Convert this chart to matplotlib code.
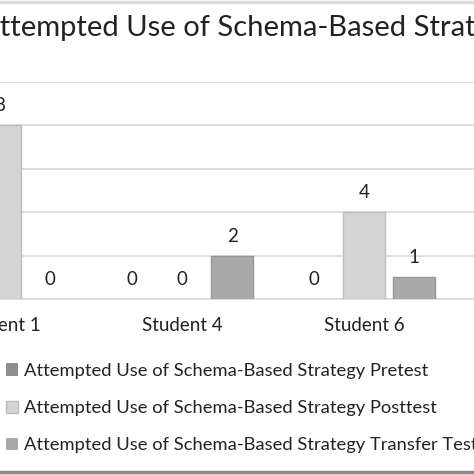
import matplotlib
matplotlib.use('Agg')
from matplotlib import pyplot as plt
from matplotlib.lines import Line2D
import numpy as np

plt.rcParams['font.family'] = ['Lato', 'DejaVu Sans']

# data (Student 1 pretest is cropped out of the picture)
students = ['Student 1', 'Student 4', 'Student 6']
pretest = [0, 0, 0]
posttest = [8, 0, 4]
transfer = [0, 2, 1]
series_names = ['Attempted Use of Schema-Based Strategy Pretest',
                'Attempted Use of Schema-Based Strategy Posttest',
                'Attempted Use of Schema-Based Strategy Transfer Test']
title = 'Attempted Use of Schema-Based Strategy'

colors = ['#8e8e8e', '#d4d4d4', '#a9a9a9']
edges = ['#7b7b7b', '#bdbdbd', '#979797']

fig = plt.figure(figsize=(4.74, 4.74), dpi=100)
ax = fig.add_axes([0, 0.369, 1, 0.458])

x = np.arange(len(students))
w = 0.23
off = 0.275
handles = []
for k, vals in enumerate([pretest, posttest, transfer]):
    lw = [1 if v > 0 else 0 for v in vals]
    bars = ax.bar(x + (k - 1) * off, vals, w, color=colors[k],
                  edgecolor=edges[k], linewidth=lw, zorder=3)
    ax.bar_label(bars, padding=8, fontsize=13.5, color='#222222')
    handles.append(bars)

ax.set_xlim(0, 474 / 182)
ax.set_ylim(0, 10)
ax.set_yticks(np.arange(0, 11, 2))
ax.yaxis.grid(True, color='#d9d9d9', linewidth=1.2, zorder=0)
ax.tick_params(axis='y', left=False, labelleft=False)
ax.set_xticks(x)
ax.set_xticklabels(students, fontsize=13.5, color='#222222')
ax.tick_params(axis='x', length=0, pad=13)
for s in ['top', 'left', 'right']:
    ax.spines[s].set_visible(False)
ax.spines['bottom'].set_color('#d9d9d9')
ax.spines['bottom'].set_linewidth(1.2)

fig.text(-0.043, 1 - 36 / 474, title, fontsize=21.0, color='#222222',
         ha='left', va='baseline')

fig.legend(handles, series_names, loc='upper left',
           bbox_to_anchor=(6 / 474, 1 - 363 / 474), frameon=False,
           fontsize=13.2, handlelength=0.65, handleheight=0.65,
           handletextpad=0.32, labelspacing=1.15, borderpad=0,
           borderaxespad=0, labelcolor='#222222')

fig.add_artist(Line2D([0, 1], [1 - 1.5 / 474] * 2, color='#dcdcdc', lw=2.5))
fig.add_artist(Line2D([0, 1], [2 / 474] * 2, color='#8a8a8a', lw=2.5))

fig.savefig('out.png', dpi=100)
